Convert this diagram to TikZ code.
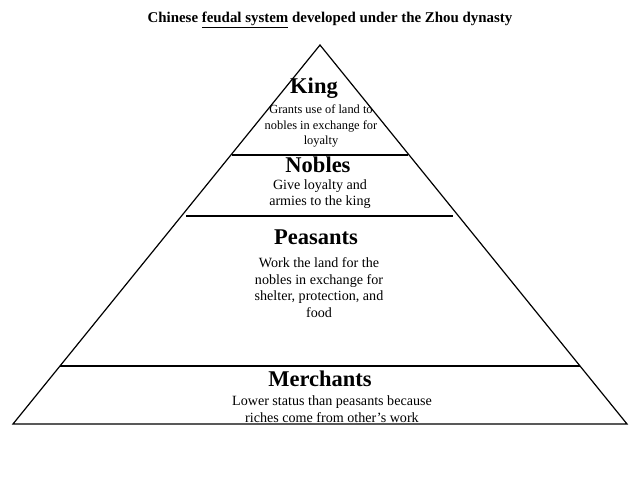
\documentclass[tikz,border=0pt]{standalone}
\usepackage{fontspec}
\setmainfont{Liberation Serif}
\begin{document}
\begin{tikzpicture}[x=1pt,y=-1pt,
  head/.style={font=\fontsize{22.5}{24}\selectfont\bfseries},
  body/.style={font=\fontsize{14.1}{16.5}\selectfont,align=center},
  tier/.style={line width=1.2pt}]
\useasboundingbox (0,0) rectangle (638,479);
\coordinate (apex) at (320,45);
\coordinate (bl) at (13,424);
\coordinate (br) at (627,424);
\draw[tier] (bl) -- (apex) -- (br) -- cycle;
\coordinate (a1) at (232,155); \coordinate (b1) at (408,155);
\coordinate (a2) at (186,216); \coordinate (b2) at (453,216);
\coordinate (a3) at (60,366); \coordinate (b3) at (580,366);
\draw[tier] (a1) -- (b1);
\draw[tier] (a2) -- (b2);
\draw[tier] (a3) -- (b3);
\node[font=\fontsize{14.9}{16}\selectfont\bfseries] (title) at (330,20) {Chinese \underline{feudal system} developed under the Zhou dynasty};
\node[head] (king) at (314,88) {King};
\node[body,font=\fontsize{12.4}{15.5}\selectfont] (kingt) at (321,126) {Grants use of land to\\nobles in exchange for\\loyalty};
\node[head] (nobles) at (318,165) {Nobles};
\node[body] (noblest) at (320,194) {Give loyalty and\\armies to the king};
\node[head] (peasants) at (316,237) {Peasants};
\node[body] (peasantst) at (319,287.5) {Work the land for the\\nobles in exchange for\\shelter, protection, and\\food};
\node[head] (merchants) at (320,379) {Merchants};
\node[body] (merchantst) at (332,409) {Lower status than peasants because\\riches come from other’s work};
\end{tikzpicture}
\end{document}
